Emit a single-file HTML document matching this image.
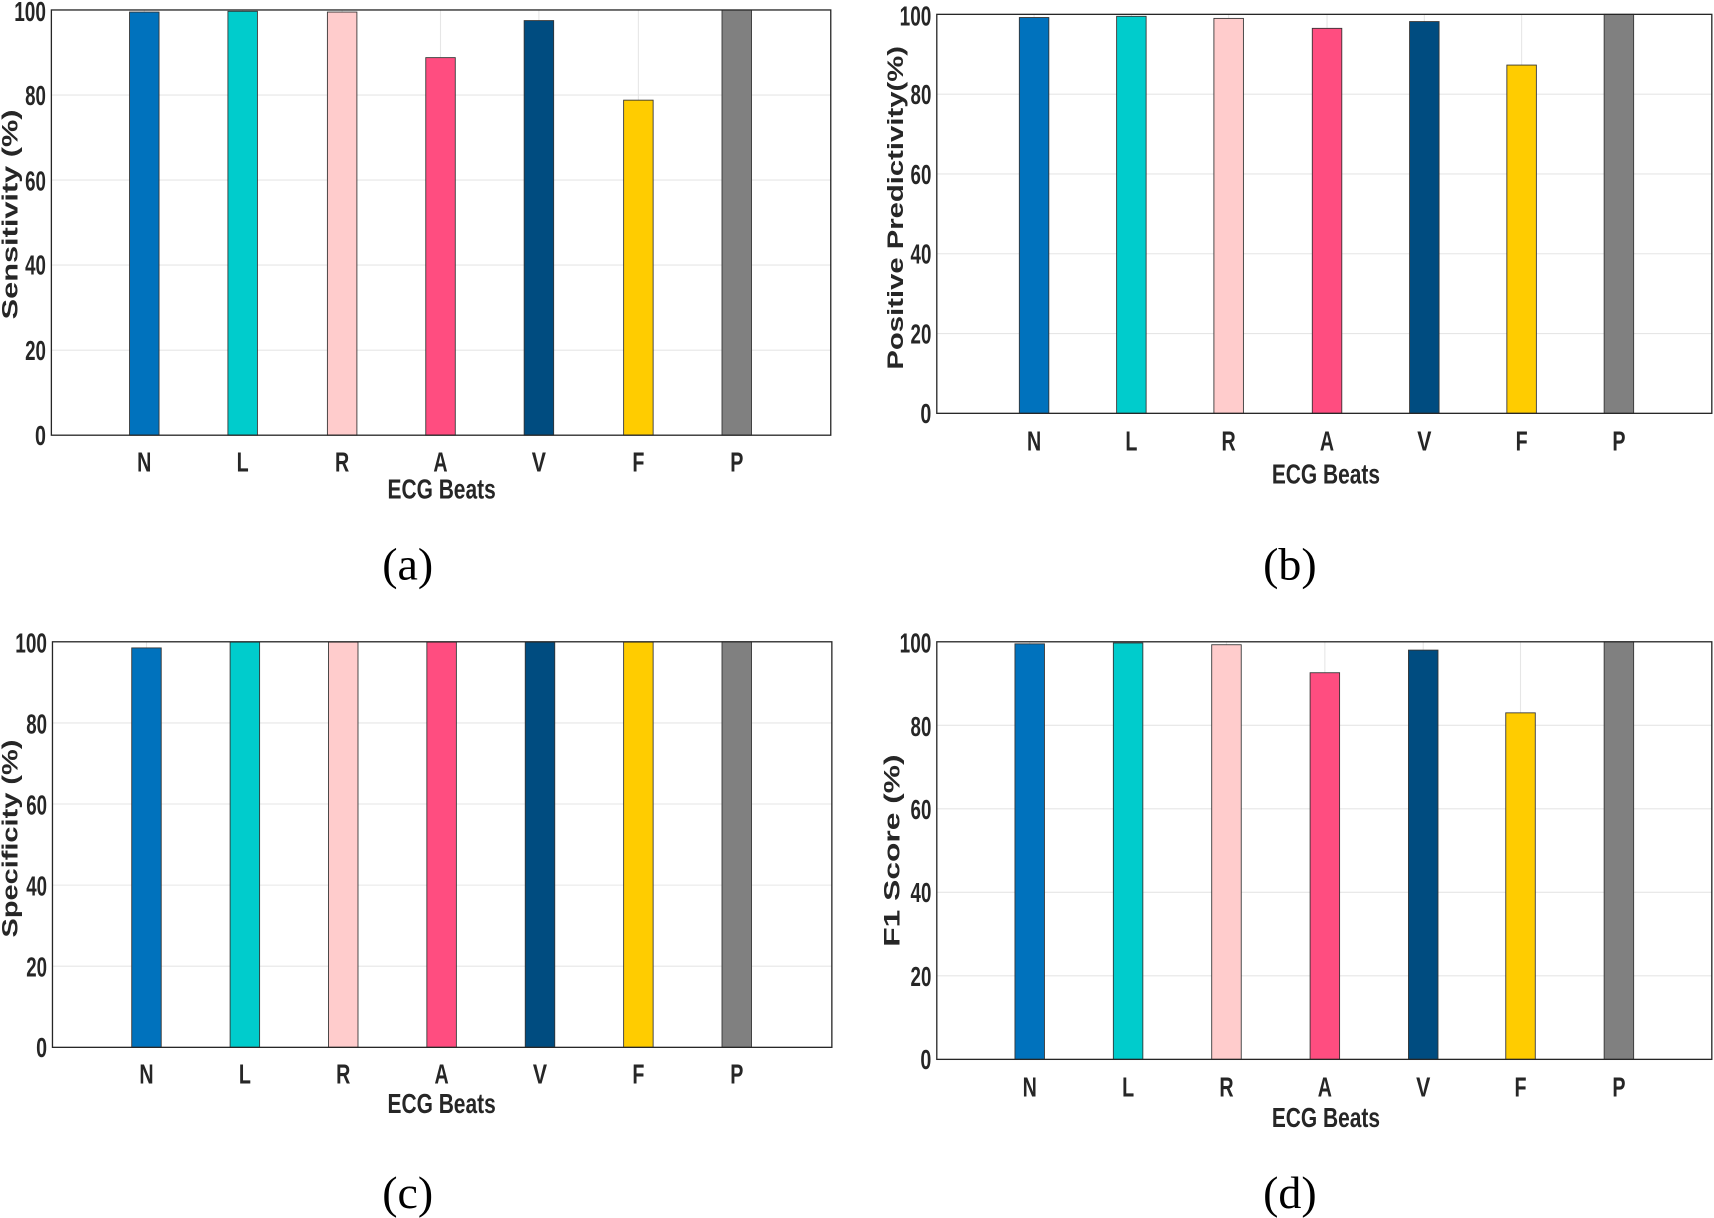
<!DOCTYPE html>
<html><head><meta charset="utf-8"><style>
html,body{margin:0;padding:0;background:#fff}
svg{display:block}
.t{font-family:"Liberation Sans Narrow","Liberation Sans",sans-serif;font-weight:bold;font-size:25px;fill:#262626}
.yl{font-family:"Liberation Sans",sans-serif;font-weight:bold;font-size:20px;fill:#262626}
.cap{font-family:"Liberation Serif",serif;font-size:42px;fill:#000}
.g{stroke:#e6e6e6;stroke-width:1}
.ax{fill:none;stroke:#262626;stroke-width:1.2}
.b{stroke:#333;stroke-width:0.8}
</style></head><body>
<svg width="1714" height="1218" viewBox="0 0 1568 1114" xmlns="http://www.w3.org/2000/svg">
<!-- Panel a -->
<g>
<g class="g"><line x1="47" x2="760" y1="320.2" y2="320.2"/><line x1="47" x2="760" y1="242.4" y2="242.4"/><line x1="47" x2="760" y1="164.6" y2="164.6"/><line x1="47" x2="760" y1="86.8" y2="86.8"/>
<line x1="132" x2="132" y1="9" y2="398"/><line x1="222" x2="222" y1="9" y2="398"/><line x1="313" x2="313" y1="9" y2="398"/><line x1="403" x2="403" y1="9" y2="398"/><line x1="493" x2="493" y1="9" y2="398"/><line x1="584" x2="584" y1="9" y2="398"/><line x1="674" x2="674" y1="9" y2="398"/></g>
<rect class="b" x="118.5" y="10.9" width="27" height="387.1" fill="#0072BD"/>
<rect class="b" x="208.5" y="10.2" width="27" height="387.8" fill="#00CCCC"/>
<rect class="b" x="299.5" y="10.9" width="27" height="387.1" fill="#FFCCCC"/>
<rect class="b" x="389.5" y="52.6" width="27" height="345.4" fill="#FF4D80"/>
<rect class="b" x="479.5" y="18.7" width="27" height="379.3" fill="#004C80"/>
<rect class="b" x="570.5" y="91.5" width="27" height="306.5" fill="#FFCC00"/>
<rect class="b" x="660.5" y="9" width="27" height="389" fill="#808080"/>
<rect class="ax" x="47" y="9" width="713" height="389"/>
<g class="t" text-anchor="end"><text x="42" y="407" textLength="10" lengthAdjust="spacingAndGlyphs">0</text><text x="42" y="329" textLength="19" lengthAdjust="spacingAndGlyphs">20</text><text x="42" y="251" textLength="19" lengthAdjust="spacingAndGlyphs">40</text><text x="42" y="174" textLength="19" lengthAdjust="spacingAndGlyphs">60</text><text x="42" y="96" textLength="19" lengthAdjust="spacingAndGlyphs">80</text><text x="42" y="19" textLength="29" lengthAdjust="spacingAndGlyphs">100</text></g>
<g class="t" text-anchor="middle"><text x="132" y="431" textLength="13" lengthAdjust="spacingAndGlyphs">N</text><text x="222" y="431" textLength="11" lengthAdjust="spacingAndGlyphs">L</text><text x="313" y="431" textLength="13" lengthAdjust="spacingAndGlyphs">R</text><text x="403" y="431" textLength="13" lengthAdjust="spacingAndGlyphs">A</text><text x="493" y="431" textLength="13" lengthAdjust="spacingAndGlyphs">V</text><text x="584" y="431" textLength="11" lengthAdjust="spacingAndGlyphs">F</text><text x="674" y="431" textLength="12" lengthAdjust="spacingAndGlyphs">P</text><text x="404" y="456" textLength="99" lengthAdjust="spacingAndGlyphs">ECG Beats</text></g>
<text class="yl" text-anchor="middle" textLength="192" lengthAdjust="spacingAndGlyphs" transform="translate(16,196) rotate(-90)">Sensitivity (%)</text>
<text class="cap" x="373" y="530" text-anchor="middle">(a)</text>
</g>
<!-- Panel b -->
<g>
<g class="g"><line x1="857" x2="1566" y1="305" y2="305"/><line x1="857" x2="1566" y1="232" y2="232"/><line x1="857" x2="1566" y1="159" y2="159"/><line x1="857" x2="1566" y1="86" y2="86"/>
<line x1="946" x2="946" y1="13" y2="378"/><line x1="1035" x2="1035" y1="13" y2="378"/><line x1="1124" x2="1124" y1="13" y2="378"/><line x1="1214" x2="1214" y1="13" y2="378"/><line x1="1303" x2="1303" y1="13" y2="378"/><line x1="1392" x2="1392" y1="13" y2="378"/><line x1="1481" x2="1481" y1="13" y2="378"/></g>
<rect class="b" x="932.5" y="15.9" width="27" height="362.1" fill="#0072BD"/>
<rect class="b" x="1021.5" y="14.8" width="27" height="363.2" fill="#00CCCC"/>
<rect class="b" x="1110.5" y="16.7" width="27" height="361.3" fill="#FFCCCC"/>
<rect class="b" x="1200.5" y="25.8" width="27" height="352.2" fill="#FF4D80"/>
<rect class="b" x="1289.5" y="19.6" width="27" height="358.4" fill="#004C80"/>
<rect class="b" x="1378.5" y="59.4" width="27" height="318.6" fill="#FFCC00"/>
<rect class="b" x="1467.5" y="13" width="27" height="365" fill="#808080"/>
<rect class="ax" x="857" y="13" width="709" height="365"/>
<g class="t" text-anchor="end"><text x="852" y="387" textLength="10" lengthAdjust="spacingAndGlyphs">0</text><text x="852" y="314" textLength="19" lengthAdjust="spacingAndGlyphs">20</text><text x="852" y="241" textLength="19" lengthAdjust="spacingAndGlyphs">40</text><text x="852" y="168" textLength="19" lengthAdjust="spacingAndGlyphs">60</text><text x="852" y="95" textLength="19" lengthAdjust="spacingAndGlyphs">80</text><text x="852" y="23" textLength="29" lengthAdjust="spacingAndGlyphs">100</text></g>
<g class="t" text-anchor="middle"><text x="946" y="412" textLength="13" lengthAdjust="spacingAndGlyphs">N</text><text x="1035" y="412" textLength="11" lengthAdjust="spacingAndGlyphs">L</text><text x="1124" y="412" textLength="13" lengthAdjust="spacingAndGlyphs">R</text><text x="1214" y="412" textLength="13" lengthAdjust="spacingAndGlyphs">A</text><text x="1303" y="412" textLength="13" lengthAdjust="spacingAndGlyphs">V</text><text x="1392" y="412" textLength="11" lengthAdjust="spacingAndGlyphs">F</text><text x="1481" y="412" textLength="12" lengthAdjust="spacingAndGlyphs">P</text><text x="1213" y="442" textLength="99" lengthAdjust="spacingAndGlyphs">ECG Beats</text></g>
<text class="yl" text-anchor="middle" textLength="296" lengthAdjust="spacingAndGlyphs" transform="translate(826,190) rotate(-90)">Positive Predictivity(%)</text>
<text class="cap" x="1180" y="530" text-anchor="middle">(b)</text>
</g>
<!-- Panel c -->
<g>
<g class="g"><line x1="48" x2="761" y1="883.8" y2="883.8"/><line x1="48" x2="761" y1="809.6" y2="809.6"/><line x1="48" x2="761" y1="735.4" y2="735.4"/><line x1="48" x2="761" y1="661.2" y2="661.2"/>
<line x1="134" x2="134" y1="587" y2="958"/><line x1="224" x2="224" y1="587" y2="958"/><line x1="314" x2="314" y1="587" y2="958"/><line x1="404" x2="404" y1="587" y2="958"/><line x1="494" x2="494" y1="587" y2="958"/><line x1="584" x2="584" y1="587" y2="958"/><line x1="674" x2="674" y1="587" y2="958"/></g>
<rect class="b" x="120.5" y="592.6" width="27" height="365.4" fill="#0072BD"/>
<rect class="b" x="210.5" y="587.3" width="27" height="370.7" fill="#00CCCC"/>
<rect class="b" x="300.5" y="587.3" width="27" height="370.7" fill="#FFCCCC"/>
<rect class="b" x="390.5" y="587.3" width="27" height="370.7" fill="#FF4D80"/>
<rect class="b" x="480.5" y="587.3" width="27" height="370.7" fill="#004C80"/>
<rect class="b" x="570.5" y="587.3" width="27" height="370.7" fill="#FFCC00"/>
<rect class="b" x="660.5" y="587" width="27" height="371" fill="#808080"/>
<rect class="ax" x="48" y="587" width="713" height="371"/>
<g class="t" text-anchor="end"><text x="43" y="967" textLength="10" lengthAdjust="spacingAndGlyphs">0</text><text x="43" y="893" textLength="19" lengthAdjust="spacingAndGlyphs">20</text><text x="43" y="819" textLength="19" lengthAdjust="spacingAndGlyphs">40</text><text x="43" y="745" textLength="19" lengthAdjust="spacingAndGlyphs">60</text><text x="43" y="671" textLength="19" lengthAdjust="spacingAndGlyphs">80</text><text x="43" y="597" textLength="29" lengthAdjust="spacingAndGlyphs">100</text></g>
<g class="t" text-anchor="middle"><text x="134" y="991" textLength="13" lengthAdjust="spacingAndGlyphs">N</text><text x="224" y="991" textLength="11" lengthAdjust="spacingAndGlyphs">L</text><text x="314" y="991" textLength="13" lengthAdjust="spacingAndGlyphs">R</text><text x="404" y="991" textLength="13" lengthAdjust="spacingAndGlyphs">A</text><text x="494" y="991" textLength="13" lengthAdjust="spacingAndGlyphs">V</text><text x="584" y="991" textLength="11" lengthAdjust="spacingAndGlyphs">F</text><text x="674" y="991" textLength="12" lengthAdjust="spacingAndGlyphs">P</text><text x="404" y="1018" textLength="99" lengthAdjust="spacingAndGlyphs">ECG Beats</text></g>
<text class="yl" text-anchor="middle" textLength="181" lengthAdjust="spacingAndGlyphs" transform="translate(16,767) rotate(-90)">Specificity (%)</text>
<text class="cap" x="373" y="1105" text-anchor="middle">(c)</text>
</g>
<!-- Panel d -->
<g>
<g class="g"><line x1="857" x2="1566" y1="892.6" y2="892.6"/><line x1="857" x2="1566" y1="816.2" y2="816.2"/><line x1="857" x2="1566" y1="739.8" y2="739.8"/><line x1="857" x2="1566" y1="663.4" y2="663.4"/>
<line x1="942" x2="942" y1="587" y2="969"/><line x1="1032" x2="1032" y1="587" y2="969"/><line x1="1122" x2="1122" y1="587" y2="969"/><line x1="1212" x2="1212" y1="587" y2="969"/><line x1="1302" x2="1302" y1="587" y2="969"/><line x1="1391" x2="1391" y1="587" y2="969"/><line x1="1481" x2="1481" y1="587" y2="969"/></g>
<rect class="b" x="928.5" y="588.9" width="27" height="380.1" fill="#0072BD"/>
<rect class="b" x="1018.5" y="588.1" width="27" height="380.9" fill="#00CCCC"/>
<rect class="b" x="1108.5" y="589.7" width="27" height="379.3" fill="#FFCCCC"/>
<rect class="b" x="1198.5" y="615.3" width="27" height="353.7" fill="#FF4D80"/>
<rect class="b" x="1288.5" y="594.6" width="27" height="374.4" fill="#004C80"/>
<rect class="b" x="1377.5" y="652" width="27" height="317" fill="#FFCC00"/>
<rect class="b" x="1467.5" y="587" width="27" height="382" fill="#808080"/>
<rect class="ax" x="857" y="587" width="709" height="382"/>
<g class="t" text-anchor="end"><text x="852" y="978" textLength="10" lengthAdjust="spacingAndGlyphs">0</text><text x="852" y="902" textLength="19" lengthAdjust="spacingAndGlyphs">20</text><text x="852" y="825" textLength="19" lengthAdjust="spacingAndGlyphs">40</text><text x="852" y="749" textLength="19" lengthAdjust="spacingAndGlyphs">60</text><text x="852" y="673" textLength="19" lengthAdjust="spacingAndGlyphs">80</text><text x="852" y="597" textLength="29" lengthAdjust="spacingAndGlyphs">100</text></g>
<g class="t" text-anchor="middle"><text x="942" y="1003" textLength="13" lengthAdjust="spacingAndGlyphs">N</text><text x="1032" y="1003" textLength="11" lengthAdjust="spacingAndGlyphs">L</text><text x="1122" y="1003" textLength="13" lengthAdjust="spacingAndGlyphs">R</text><text x="1212" y="1003" textLength="13" lengthAdjust="spacingAndGlyphs">A</text><text x="1302" y="1003" textLength="13" lengthAdjust="spacingAndGlyphs">V</text><text x="1391" y="1003" textLength="11" lengthAdjust="spacingAndGlyphs">F</text><text x="1481" y="1003" textLength="12" lengthAdjust="spacingAndGlyphs">P</text><text x="1213" y="1031" textLength="99" lengthAdjust="spacingAndGlyphs">ECG Beats</text></g>
<text class="yl" text-anchor="middle" textLength="176" lengthAdjust="spacingAndGlyphs" transform="translate(823,778) rotate(-90)">F1 Score (%)</text>
<text class="cap" x="1180" y="1105" text-anchor="middle">(d)</text>
</g>
</svg>
</body></html>
